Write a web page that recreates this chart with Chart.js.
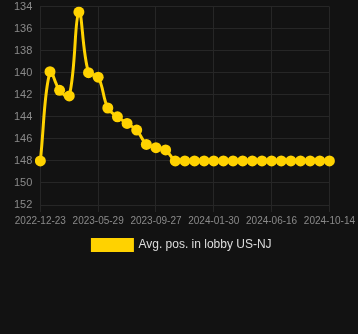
<!DOCTYPE html>
<html>
<head>
<meta charset="utf-8">
<script src="https://cdn.jsdelivr.net/npm/chart.js@4"></script>
<style>
  html, body { margin: 0; padding: 0; background: #121212; overflow: hidden; }
  #wrap { width: 358px; height: 338px; margin-top: -8px; }
</style>
</head>
<body>
<div id="wrap"><canvas id="posChart"></canvas></div>
<script>
// dates of the snapshots (only every 6th one is shown on the axis)
const labels = [
    '2022-12-23', '2023-01-18', '2023-02-13', '2023-03-11', '2023-04-06', '2023-05-02',
    '2023-05-29', '2023-06-18', '2023-07-08', '2023-07-28', '2023-08-17', '2023-09-06',
    '2023-09-27', '2023-10-18', '2023-11-08', '2023-11-29', '2023-12-20', '2024-01-09',
    '2024-01-30', '2024-02-22', '2024-03-16', '2024-04-08', '2024-05-01', '2024-05-24',
    '2024-06-16', '2024-07-06', '2024-07-26', '2024-08-15', '2024-09-04', '2024-09-24',
    '2024-10-14'
];

// average position in lobby (lower is better, axis is reversed)
const avgPos = [
    148, 139.9, 141.6, 142.1, 134.5, 140, 140.4, 143.2, 144, 144.6, 145.2,
    146.5, 146.8, 147, 148, 148, 148, 148, 148, 148, 148, 148, 148, 148,
    148, 148, 148, 148, 148, 148, 148
];

const yTicks = { min: 134, max: 152, step: 2 };

const lineColor = '#ffd200';
const ctx = document.getElementById('posChart').getContext('2d');

Chart.defaults.font.family = 'Arial, "Liberation Sans", sans-serif';

const myChart = new Chart(ctx, {
    type: 'line',
    data: {
        labels: labels,
        datasets: [
            {
                label: 'Avg. pos. in lobby US-NJ',
                data: avgPos,
                borderColor: lineColor,
                backgroundColor: lineColor,
                borderWidth: 3,
                pointRadius: 5.5,
                pointBackgroundColor: lineColor,
                pointBorderColor: lineColor,
                pointBorderWidth: 0,
                tension: 0.4,
                fill: false
            }
        ]
    },
    options: {
        responsive: true,
        maintainAspectRatio: false,
        animation: false,
        layout: {
            padding: { left: 6, right: 0, top: 0, bottom: 69 }
        },
        plugins: {
            legend: {
                position: 'bottom',
                labels: {
                    color: '#dddddd',
                    boxWidth: 40,
                    boxHeight: 11,
                    padding: 9,
                    font: { size: 12 }
                }
            },
            tooltip: { enabled: false }
        },
        scales: {
            x: {
                grid: { color: '#262626', tickLength: 7 },
                border: { display: false },
                ticks: {
                    color: '#8a8a8a',
                    font: { size: 10 },
                    maxRotation: 0,
                    autoSkip: true,
                    maxTicksLimit: 6
                }
            },
            y: {
                reverse: true,
                min: yTicks.min,
                max: yTicks.max,
                grid: { color: '#262626', drawTicks: false },
                border: { display: false },
                ticks: {
                    stepSize: yTicks.step,
                    color: '#8a8a8a',
                    font: { size: 11 },
                    padding: 8
                }
            }
        }
    }
});
</script>
</body>
</html>
